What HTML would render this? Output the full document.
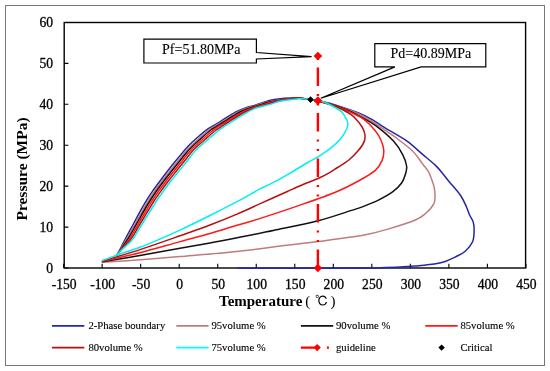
<!DOCTYPE html>
<html><head><meta charset="utf-8"><title>Phase envelope</title>
<style>
html,body{margin:0;padding:0;background:#fff;}
body{width:550px;height:371px;overflow:hidden;}
svg{display:block;}
</style></head>
<body>
<svg width="550" height="371" viewBox="0 0 550 371">
<rect x="0" y="0" width="550" height="371" fill="#fff"/>
<rect x="5.5" y="5.5" width="539" height="360" fill="none" stroke="#767676" stroke-width="1"/>
<rect x="64.2" y="22.5" width="461.4" height="245.5" fill="none" stroke="#000" stroke-width="1.4"/>
<path d="M64.2,268.00 H68.4 M64.2,227.08 H68.4 M64.2,186.16 H68.4 M64.2,145.24 H68.4 M64.2,104.32 H68.4 M64.2,63.40 H68.4 M64.2,22.48 H68.4 M63.62,268 V263.8 M102.15,268 V263.8 M140.67,268 V263.8 M179.20,268 V263.8 M217.72,268 V263.8 M256.25,268 V263.8 M294.77,268 V263.8 M333.30,268 V263.8 M371.82,268 V263.8 M410.35,268 V263.8 M448.88,268 V263.8 M487.40,268 V263.8 M525.92,268 V263.8" stroke="#000" stroke-width="1.1" fill="none"/>
<g fill="none" stroke-width="1.5" stroke-linejoin="round" stroke-linecap="round">
<path d="M117.00,255.20 C117.75,253.75 120.03,249.37 121.50,246.50 C122.97,243.63 123.82,241.75 125.80,238.00 C127.78,234.25 130.98,228.48 133.40,224.00 C135.82,219.52 137.88,215.40 140.30,211.10 C142.72,206.80 145.72,201.72 147.90,198.20 C150.08,194.68 151.38,192.87 153.40,190.00 C155.42,187.13 156.75,185.28 160.00,181.00 C163.25,176.72 168.25,170.05 172.90,164.30 C177.55,158.55 183.53,151.22 187.90,146.50 C192.27,141.78 195.88,138.87 199.10,136.00 C202.32,133.13 204.23,131.37 207.20,129.30 C210.17,127.23 213.67,125.57 216.90,123.60 C220.13,121.63 223.35,119.50 226.60,117.50 C229.85,115.50 233.47,113.12 236.40,111.60 C239.33,110.08 241.08,109.48 244.20,108.40 C247.32,107.32 250.57,106.50 255.10,105.10 C259.63,103.70 266.58,101.13 271.40,100.00 C276.22,98.87 280.15,98.65 284.00,98.30 C287.85,97.95 290.83,97.80 294.50,97.90 C298.17,98.00 301.42,98.28 306.00,98.90 C310.58,99.52 316.87,100.52 322.00,101.60 C327.13,102.68 330.70,103.50 336.80,105.40 C342.90,107.30 352.85,110.70 358.60,113.00 C364.35,115.30 366.35,116.40 371.30,119.20 C376.25,122.00 382.35,126.13 388.30,129.80 C394.25,133.47 401.33,137.15 407.00,141.20 C412.67,145.25 417.55,150.07 422.30,154.10 C427.05,158.13 432.05,162.10 435.50,165.40 C438.95,168.70 440.75,171.22 443.00,173.90 C445.25,176.58 446.07,177.90 449.00,181.50 C451.93,185.10 457.68,191.25 460.60,195.50 C463.52,199.75 465.00,203.75 466.50,207.00 C468.00,210.25 468.47,212.43 469.60,215.00 C470.73,217.57 472.55,219.68 473.30,222.40 C474.05,225.12 474.22,228.08 474.10,231.30 C473.98,234.52 474.08,238.37 472.60,241.70 C471.12,245.03 467.92,248.83 465.20,251.30 C462.48,253.77 459.77,254.77 456.30,256.50 C452.83,258.23 448.85,260.35 444.40,261.70 C439.95,263.05 434.53,263.87 429.60,264.60 C424.67,265.33 419.73,265.68 414.80,266.10 C409.87,266.52 405.80,266.82 400.00,267.10 C394.20,267.38 386.17,267.63 380.00,267.80 C373.83,267.97 376.33,268.03 363.00,268.10 C349.67,268.17 320.83,268.18 300.00,268.20 C279.17,268.22 248.33,268.20 238.00,268.20" stroke="#2626a6"/>
<path d="M102.50,262.30 C108.75,261.87 127.08,260.67 140.00,259.70 C152.92,258.73 163.83,257.87 180.00,256.50 C196.17,255.13 219.20,253.38 237.00,251.50 C254.80,249.62 273.30,246.87 286.80,245.20 C300.30,243.53 305.30,243.15 318.00,241.50 C330.70,239.85 351.35,237.37 363.00,235.30 C374.65,233.23 379.18,231.65 387.90,229.10 C396.62,226.55 408.98,222.63 415.30,220.00 C421.62,217.37 422.70,216.03 425.80,213.30 C428.90,210.57 432.37,206.65 433.90,203.60 C435.43,200.55 434.95,197.68 435.00,195.00 C435.05,192.32 434.78,190.17 434.20,187.50 C433.62,184.83 432.48,181.70 431.50,179.00 C430.52,176.30 429.83,173.88 428.30,171.30 C426.77,168.72 424.88,166.85 422.30,163.50 C419.72,160.15 416.90,155.28 412.80,151.20 C408.70,147.12 401.83,142.15 397.70,139.00 C393.57,135.85 393.78,136.13 388.00,132.30 C382.22,128.47 371.53,120.42 363.00,116.00 C354.47,111.58 343.72,108.18 336.80,105.80 C329.88,103.42 326.63,102.83 321.50,101.70 C316.37,100.57 310.58,99.58 306.00,99.00 C301.42,98.42 300.44,97.70 294.00,98.20 C287.56,98.70 272.87,101.03 267.38,102.00 C261.88,102.97 263.74,103.17 261.02,104.00 C258.29,104.83 254.48,105.83 251.01,107.00 C247.54,108.17 243.48,109.50 240.21,111.00 C236.93,112.50 234.43,114.17 231.34,116.00 C228.26,117.83 225.47,119.67 221.71,122.00 C217.96,124.33 212.89,127.00 208.81,130.00 C204.73,133.00 200.85,136.67 197.23,140.00 C193.60,143.33 190.14,146.67 187.05,150.00 C183.96,153.33 181.44,156.67 178.71,160.00 C175.98,163.33 173.31,166.67 170.67,170.00 C168.03,173.33 165.39,176.67 162.86,180.00 C160.32,183.33 157.81,186.67 155.47,190.00 C153.13,193.33 150.90,196.67 148.80,200.00 C146.69,203.33 144.76,206.67 142.84,210.00 C140.92,213.33 138.94,217.00 137.27,220.00 C135.61,223.00 134.23,225.50 132.85,228.00 C131.46,230.50 130.08,233.00 128.96,235.00 C127.85,237.00 127.11,238.33 126.14,240.00 C125.18,241.67 124.19,243.33 123.17,245.00 C122.15,246.67 121.00,248.40 120.03,250.00 C119.06,251.60 117.79,253.83 117.35,254.60" stroke="#c07c7c"/>
<path d="M102.50,261.80 C108.75,260.75 127.08,257.77 140.00,255.50 C152.92,253.23 168.33,250.28 180.00,248.20 C191.67,246.12 200.50,244.73 210.00,243.00 C219.50,241.27 226.27,239.92 237.00,237.80 C247.73,235.68 260.90,233.13 274.40,230.30 C287.90,227.47 305.13,224.12 318.00,220.80 C330.87,217.48 344.10,212.77 351.60,210.40 C359.10,208.03 358.62,208.27 363.00,206.60 C367.38,204.93 372.92,202.88 377.90,200.40 C382.88,197.92 388.95,194.60 392.90,191.70 C396.85,188.80 399.50,185.95 401.60,183.00 C403.70,180.05 404.67,176.83 405.50,174.00 C406.33,171.17 407.05,169.20 406.60,166.00 C406.15,162.80 404.98,158.95 402.80,154.80 C400.62,150.65 397.63,145.68 393.50,141.10 C389.37,136.52 383.08,131.17 378.00,127.30 C372.92,123.43 368.05,120.73 363.00,117.90 C357.95,115.07 352.07,112.28 347.70,110.30 C343.33,108.32 341.17,107.42 336.80,106.00 C332.43,104.58 326.63,102.97 321.50,101.80 C316.37,100.63 310.58,99.60 306.00,99.00 C301.42,98.40 300.10,97.70 294.00,98.20 C287.90,98.70 274.53,101.03 269.37,102.00 C264.21,102.97 265.79,103.17 263.04,104.00 C260.28,104.83 256.32,105.83 252.85,107.00 C249.37,108.17 245.45,109.50 242.18,111.00 C238.91,112.50 236.33,114.17 233.24,116.00 C230.15,117.83 227.35,119.67 223.62,122.00 C219.90,124.33 214.94,127.00 210.87,130.00 C206.81,133.00 202.92,136.67 199.24,140.00 C195.57,143.33 191.93,146.67 188.82,150.00 C185.70,153.33 183.26,156.67 180.54,160.00 C177.83,163.33 175.16,166.67 172.50,170.00 C169.85,173.33 167.16,176.67 164.61,180.00 C162.06,183.33 159.58,186.67 157.22,190.00 C154.85,193.33 152.58,196.67 150.45,200.00 C148.32,203.33 146.38,206.67 144.43,210.00 C142.48,213.33 140.43,217.00 138.73,220.00 C137.03,223.00 135.63,225.50 134.21,228.00 C132.80,230.50 131.41,233.00 130.26,235.00 C129.10,237.00 128.34,238.33 127.28,240.00 C126.23,241.67 125.09,243.33 123.93,245.00 C122.77,246.67 121.41,248.40 120.32,250.00 C119.23,251.60 117.87,253.83 117.38,254.60" stroke="#111111"/>
<path d="M102.50,261.40 C108.75,259.95 127.08,256.00 140.00,252.70 C152.92,249.40 168.33,244.80 180.00,241.60 C191.67,238.40 200.50,236.22 210.00,233.50 C219.50,230.78 228.35,227.90 237.00,225.30 C245.65,222.70 251.52,221.22 261.90,217.90 C272.28,214.58 286.85,209.77 299.30,205.40 C311.75,201.03 326.45,195.93 336.60,191.70 C346.75,187.47 353.75,183.55 360.20,180.00 C366.65,176.45 371.68,173.58 375.30,170.40 C378.92,167.22 380.48,164.20 381.90,160.90 C383.32,157.60 383.95,154.05 383.80,150.60 C383.65,147.15 382.42,143.50 381.00,140.20 C379.58,136.90 378.13,134.27 375.30,130.80 C372.47,127.33 367.68,122.28 364.00,119.40 C360.32,116.52 357.73,115.65 353.20,113.50 C348.67,111.35 342.08,108.43 336.80,106.50 C331.52,104.57 326.63,103.15 321.50,101.90 C316.37,100.65 310.58,99.62 306.00,99.00 C301.42,98.38 299.69,97.70 294.00,98.20 C288.31,98.70 276.60,101.03 271.86,102.00 C267.12,102.97 268.35,103.17 265.56,104.00 C262.78,104.83 258.63,105.83 255.14,107.00 C251.66,108.17 247.90,109.50 244.65,111.00 C241.39,112.50 238.72,114.17 235.61,116.00 C232.50,117.83 229.70,119.67 226.01,122.00 C222.32,124.33 217.50,127.00 213.46,130.00 C209.42,133.00 205.50,136.67 201.77,140.00 C198.03,143.33 194.18,146.67 191.03,150.00 C187.87,153.33 185.55,156.67 182.84,160.00 C180.14,163.33 177.46,166.67 174.79,170.00 C172.12,173.33 169.37,176.67 166.80,180.00 C164.24,183.33 161.78,186.67 159.40,190.00 C157.01,193.33 154.67,196.67 152.51,200.00 C150.35,203.33 148.41,206.67 146.42,210.00 C144.43,213.33 142.30,217.00 140.55,220.00 C138.80,223.00 137.37,225.50 135.92,228.00 C134.47,230.50 133.07,233.00 131.87,235.00 C130.67,237.00 129.88,238.33 128.71,240.00 C127.55,241.67 126.23,243.33 124.89,245.00 C123.55,246.67 121.93,248.40 120.68,250.00 C119.44,251.60 117.96,253.83 117.41,254.60" stroke="#ff1a1a"/>
<path d="M102.50,261.00 C108.75,259.10 127.08,253.80 140.00,249.60 C152.92,245.40 168.33,239.90 180.00,235.80 C191.67,231.70 200.50,228.62 210.00,225.00 C219.50,221.38 228.35,217.78 237.00,214.10 C245.65,210.42 253.60,206.63 261.90,202.90 C270.20,199.17 279.95,194.77 286.80,191.70 C293.65,188.63 297.78,186.70 303.00,184.50 C308.22,182.30 313.60,180.53 318.10,178.50 C322.60,176.47 326.77,174.13 330.00,172.30 C333.23,170.47 334.35,169.55 337.50,167.50 C340.65,165.45 345.43,162.82 348.90,160.00 C352.37,157.18 355.78,153.58 358.30,150.60 C360.82,147.62 362.90,144.78 364.00,142.10 C365.10,139.42 365.22,137.02 364.90,134.50 C364.58,131.98 363.83,129.83 362.10,127.00 C360.37,124.17 356.90,119.92 354.50,117.50 C352.10,115.08 350.65,114.25 347.70,112.50 C344.75,110.75 341.17,108.73 336.80,107.00 C332.43,105.27 326.63,103.43 321.50,102.10 C316.37,100.77 310.58,99.65 306.00,99.00 C301.42,98.35 299.25,97.70 294.00,98.20 C288.75,98.70 278.78,101.03 274.48,102.00 C270.18,102.97 271.04,103.17 268.21,104.00 C265.39,104.83 261.05,105.83 257.56,107.00 C254.06,108.17 250.48,109.50 247.24,111.00 C243.99,112.50 241.22,114.17 238.10,116.00 C234.98,117.83 232.17,119.67 228.52,122.00 C224.86,124.33 220.19,127.00 216.17,130.00 C212.15,133.00 208.22,136.67 204.41,140.00 C200.61,143.33 196.54,146.67 193.35,150.00 C190.16,153.33 187.95,156.67 185.26,160.00 C182.56,163.33 179.88,166.67 177.19,170.00 C174.50,173.33 171.69,176.67 169.11,180.00 C166.52,183.33 164.09,186.67 161.68,190.00 C159.28,193.33 156.87,196.67 154.68,200.00 C152.48,203.33 150.55,206.67 148.51,210.00 C146.48,213.33 144.26,217.00 142.46,220.00 C140.66,223.00 139.19,225.50 137.71,228.00 C136.23,230.50 134.82,233.00 133.57,235.00 C132.32,237.00 131.49,238.33 130.21,240.00 C128.93,241.67 127.42,243.33 125.89,245.00 C124.37,246.67 122.47,248.40 121.06,250.00 C119.66,251.60 118.06,253.83 117.45,254.60" stroke="#b80f0f"/>
<path d="M102.50,260.50 C105.42,259.42 113.75,256.20 120.00,254.00 C126.25,251.80 133.33,249.80 140.00,247.30 C146.67,244.80 153.33,241.87 160.00,239.00 C166.67,236.13 171.67,234.02 180.00,230.10 C188.33,226.18 200.50,220.23 210.00,215.50 C219.50,210.77 228.77,206.08 237.00,201.70 C245.23,197.32 253.90,192.12 259.40,189.20 C264.90,186.28 265.08,186.77 270.00,184.20 C274.92,181.63 282.62,177.42 288.90,173.80 C295.18,170.18 302.83,165.33 307.70,162.50 C312.57,159.67 314.32,159.17 318.10,156.80 C321.88,154.43 326.78,151.13 330.40,148.30 C334.02,145.47 337.28,142.63 339.80,139.80 C342.32,136.97 344.15,133.77 345.50,131.30 C346.85,128.83 347.65,126.80 347.90,125.00 C348.15,123.20 347.93,122.58 347.00,120.50 C346.07,118.42 344.00,114.48 342.30,112.50 C340.60,110.52 338.85,109.88 336.80,108.60 C334.75,107.32 332.42,105.97 330.00,104.80 C327.58,103.63 326.13,102.58 322.30,101.60 C318.47,100.62 311.17,99.35 307.00,98.90 C302.83,98.45 301.65,98.57 297.30,98.90 C292.95,99.23 285.45,99.98 280.90,100.90 C276.35,101.82 274.30,103.15 270.00,104.40 C265.70,105.65 259.78,106.57 255.10,108.40 C250.42,110.23 245.75,113.20 241.90,115.40 C238.05,117.60 235.63,119.28 232.00,121.60 C228.37,123.92 224.23,126.20 220.10,129.30 C215.97,132.40 211.22,136.75 207.20,140.20 C203.18,143.65 199.98,145.72 196.00,150.00 C192.02,154.28 187.62,160.57 183.30,165.90 C178.98,171.23 173.27,177.98 170.10,182.00 C166.93,186.02 166.25,187.33 164.30,190.00 C162.35,192.67 160.22,195.33 158.40,198.00 C156.58,200.67 155.90,202.00 153.40,206.00 C150.90,210.00 146.48,217.00 143.40,222.00 C140.32,227.00 136.90,232.88 134.90,236.00 C132.90,239.12 132.62,239.28 131.40,240.70 C130.18,242.12 129.03,243.15 127.60,244.50 C126.17,245.85 124.23,247.50 122.80,248.80 C121.37,250.10 119.88,251.33 119.00,252.30 C118.12,253.27 117.75,254.22 117.50,254.60" stroke="#00f0f0"/>
</g>
<line x1="317.89" y1="268" x2="317.89" y2="56.03" stroke="#ff0000" stroke-width="2.4" stroke-dasharray="18.5 7.5 2 7.5 2 8"/>
<path d="M317.89,51.73 L322.19,56.03 L317.89,60.33 L313.59,56.03 Z" fill="#ff0000" stroke="none"/>
<path d="M317.89,96.28 L322.29,100.68 L317.89,105.08 L313.49,100.68 Z" fill="#ff0000" stroke="none"/>
<path d="M317.89,263.70 L322.19,268.00 L317.89,272.30 L313.59,268.00 Z" fill="#ff0000" stroke="none"/>
<path d="M310.50,96.30 L313.80,99.60 L310.50,102.90 L307.20,99.60 Z" fill="#000" stroke="none"/>
<g font-family="Liberation Serif, Times New Roman, serif" font-size="13.6" fill="#000" stroke="#000" stroke-width="0.3">
<text x="53" y="272.60" text-anchor="end">0</text>
<text x="53" y="231.68" text-anchor="end">10</text>
<text x="53" y="190.76" text-anchor="end">20</text>
<text x="53" y="149.84" text-anchor="end">30</text>
<text x="53" y="108.92" text-anchor="end">40</text>
<text x="53" y="68.00" text-anchor="end">50</text>
<text x="53" y="27.08" text-anchor="end">60</text>
<text x="64.12" y="289" text-anchor="middle">-150</text>
<text x="102.65" y="289" text-anchor="middle">-100</text>
<text x="141.17" y="289" text-anchor="middle">-50</text>
<text x="179.70" y="289" text-anchor="middle">0</text>
<text x="218.22" y="289" text-anchor="middle">50</text>
<text x="256.75" y="289" text-anchor="middle">100</text>
<text x="295.27" y="289" text-anchor="middle">150</text>
<text x="333.80" y="289" text-anchor="middle">200</text>
<text x="372.32" y="289" text-anchor="middle">250</text>
<text x="410.85" y="289" text-anchor="middle">300</text>
<text x="449.38" y="289" text-anchor="middle">350</text>
<text x="487.90" y="289" text-anchor="middle">400</text>
<text x="526.42" y="289" text-anchor="middle">450</text>
</g>
<text transform="translate(26.8,169) rotate(-90)" text-anchor="middle" font-family="Liberation Serif, serif" font-weight="bold" font-size="15.5">Pressure (MPa)</text>
<text y="306" font-family="Liberation Serif, serif" font-size="15"><tspan x="219" font-weight="bold">Temperature</tspan><tspan x="305.2">(</tspan><tspan x="314.9" font-size="13.5" font-family="IPAGothic, Noto Sans CJK JP, sans-serif">℃</tspan><tspan x="330.6">)</tspan></text>
<path d="M143.9,39.2 H256.4 V52.5 L311.6,56.7 L256.4,59 V63 H143.9 Z" fill="#fff" stroke="#000" stroke-width="1.2"/>
<text x="201.2" y="53.6" text-anchor="middle" font-family="Liberation Serif, serif" font-size="14" stroke="#000" stroke-width="0.12">Pf=51.80MPa</text>
<path d="M374.8,43.6 H485.8 V66.9 H421.1 L320.8,98.2 L394.9,66.9 H374.8 Z" fill="#fff" stroke="#000" stroke-width="1.2"/>
<text x="430.9" y="58.3" text-anchor="middle" font-family="Liberation Serif, serif" font-size="14" stroke="#000" stroke-width="0.12">Pd=40.89MPa</text>
<g font-family="Liberation Serif, serif" font-size="10.7" fill="#000" stroke="#000" stroke-width="0.12">
<line x1="52" y1="325.8" x2="84.3" y2="325.8" stroke="#2626a6" stroke-width="1.7"/>
<text x="88.4" y="329.3">2-Phase boundary</text>
<line x1="176.3" y1="325.8" x2="208.60000000000002" y2="325.8" stroke="#c07c7c" stroke-width="1.7"/>
<text x="211.4" y="329.3">95volume %</text>
<line x1="300.9" y1="325.8" x2="333.2" y2="325.8" stroke="#111111" stroke-width="1.7"/>
<text x="336.0" y="329.3">90volume %</text>
<line x1="425.3" y1="325.8" x2="457.6" y2="325.8" stroke="#ff1a1a" stroke-width="1.7"/>
<text x="460.4" y="329.3">85volume %</text>
<line x1="52" y1="347.6" x2="84.3" y2="347.6" stroke="#b80f0f" stroke-width="1.7"/>
<text x="88.4" y="351.1">80volume %</text>
<line x1="176.3" y1="347.6" x2="208.60000000000002" y2="347.6" stroke="#00ffff" stroke-width="1.7"/>
<text x="211.4" y="351.1">75volume %</text>
<line x1="300.9" y1="347.6" x2="333.4" y2="347.6" stroke="#ff0000" stroke-width="2.4" stroke-dasharray="18.5 7.5 2 7.5 2 8"/>
<path d="M317.20,344.00 L320.80,347.60 L317.20,351.20 L313.60,347.60 Z" fill="#ff0000" stroke="none"/>
<text x="336.0" y="351.1">guideline</text>
<path d="M441.60,344.40 L444.80,347.60 L441.60,350.80 L438.40,347.60 Z" fill="#000" stroke="none"/>
<text x="460.4" y="351.1">Critical</text>
</g>
</svg>
</body></html>
